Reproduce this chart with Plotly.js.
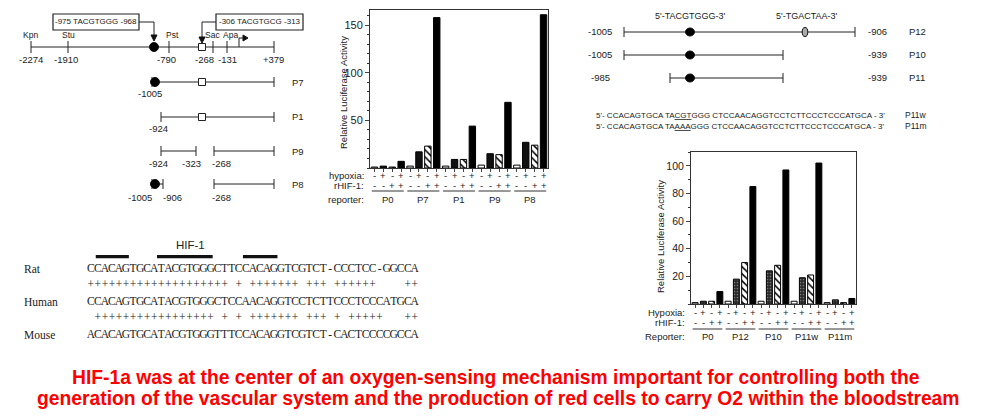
<!DOCTYPE html>
<html><head><meta charset="utf-8">
<script src="https://cdn.plot.ly/plotly-3.0.1.min.js"></script>
<style>html,body{margin:0;padding:0;background:#fff}#chart{width:984px;height:418px}</style>
</head><body><div id="chart"></div>
<script>
// ---------------- data ----------------
const leftReporters = ['P0','P7','P1','P9','P8'];
const leftNone    = [1, 2, 2, 3, 3];
const leftHypoxia = [2, 17, 9, 15, 27];
const leftHif     = [1, 23, 9, 14, 24];
const leftBoth    = [7, 158, 44, 69, 161];

const rightReporters = ['P0','P12','P10','P11w','P11m'];
const rightNone    = [1, 2, 2, 2, 1];
const rightHypoxia = [2, 18, 24, 19, 3];
const rightHif     = [2, 30, 28, 21, 1];
const rightBoth    = [9, 85, 97, 102, 4];

const hypoxiaSigns = ['-','+','-','+'];
const rhifSigns    = ['-','-','+','+'];
const leftYTicks  = [50, 100, 150];
const rightYTicks = [20, 40, 60, 80, 100];

const seqNames = ['Rat','Human','Mouse'];
const seqRat   = 'CCACAGTGCATACGTGGGCTTCCACAGGTCGTCT-CCCTCC-GGCCA';
const seqHuman = 'CCACAGTGCATACGTGGGCTCCAACAGGTCCTCTTCCCTCCCATGCA';
const seqMouse = 'ACACAGTGCATACGTGGGTTTCCACAGGTCGTCT-CACTCCCCGCCA';
const idRatHuman   = '++++++++++++++++++++ + +++++++ +++ ++++++    ++';
const idHumanMouse = ' +++++++++++++++++ + + +++++++ +++ + +++++   ++';

const mapSiteNames  = ['Kpn','Stu','Pst','Sac','Apa'];
const mapCoordLabels = ['-2274','-1910','-790','-268','-131','+379'];
const boxLabels = ['-975 TACGTGGG -968','-306 TACGTGCG -313'];
const constructNames = ['P7','P1','P9','P8'];
const rightConstructs = ['P12','P10','P11'];
const rightLeftCoords = ['-1005','-1005','-985'];
const rightRightCoords = ['-906','-939','-939'];
const motifLabels = ["5'-TACGTGGG-3'","5'-TGACTAA-3'"];
const seqP11w = "5'- CCACAGTGCA TA<u>CGT</u>GGG CTCCAACAGGTCCTCTTCCCTCCCATGCA - 3'";
const seqP11m = "5'- CCACAGTGCA TA<u>AAA</u>GGG CTCCAACAGGTCCTCTTCCCTCCCATGCA - 3'";
const captionLines = [
  'HIF-1a was at the center of an oxygen-sensing mechanism important for controlling both the',
  'generation of the vascular system and the production of red cells to carry O2 within the bloodstream'
];

// ---------------- helpers ----------------
const W = 984, H = 418;
const X = p => p / W;
const Y = p => 1 - p / H;
const FONT = 'Arial, "Liberation Sans", sans-serif';
const annotations = [];
const shapes = [];
function txt(text, x, y, o) {
  o = o || {};
  annotations.push({text, x: X(x), y: Y(y), xref: 'paper', yref: 'paper', showarrow: false,
    xanchor: o.xa || 'center', yanchor: 'middle', textangle: o.angle || 0,
    font: {family: o.family || FONT, size: o.size || 9, color: o.color || '#222', weight: o.weight || 'normal'}});
}
function line(x0, y0, x1, y1, w, c) {
  shapes.push({type: 'line', xref: 'paper', yref: 'paper', x0: X(x0), y0: Y(y0), x1: X(x1), y1: Y(y1),
    line: {color: c || '#222', width: w || 1}});
}
function circ(cx, cy, rx, ry, fill) {
  shapes.push({type: 'circle', xref: 'paper', yref: 'paper', x0: X(cx - rx), x1: X(cx + rx), y0: Y(cy + ry), y1: Y(cy - ry),
    fillcolor: fill, line: {color: '#111', width: 1}});
}
function rect(x0, y0, x1, y1, fill, lw) {
  shapes.push({type: 'rect', xref: 'paper', yref: 'paper', x0: X(x0), x1: X(x1), y0: Y(y1), y1: Y(y0),
    fillcolor: fill, line: {color: '#222', width: lw || 1}});
}
function path(pts, fill) {
  let d = pts.map((p, i) => (i ? 'L' : 'M') + X(p[0]) + ',' + Y(p[1])).join(' ') + ' Z';
  shapes.push({type: 'path', xref: 'paper', yref: 'paper', path: d, fillcolor: fill, line: {color: fill, width: 1}});
}
function seg(x0, x1, y) { line(x0, y, x1, y); line(x0, y - 5, x0, y + 5); line(x1, y - 5, x1, y + 5); }

// ---------------- top-left restriction map ----------------
const mY = 47;
line(31, mY, 274, mY);
const siteX = [31, 68, 169, 213, 227];
const siteLabX = [31, 68, 172, 212, 230];
siteX.forEach((x, i) => { line(x, mY - 6, x, mY + 6); txt(mapSiteNames[i], siteLabX[i], 35, {size: 8.5}); });
line(274, mY - 6, 274, mY + 6);
const coordX = [31, 66, 166, 204, 227, 273];
mapCoordLabels.forEach((t, i) => txt(t, coordX[i], 59, {size: 9.5}));
circ(154, mY, 4.5, 4.5, '#000');
rect(198.5, mY - 3.5, 205.5, mY + 3.5, '#fff');
line(239, mY, 239, 38); line(239, 38, 243, 38); path([[243, 35], [248, 38], [243, 41]], '#111');
rect(53, 14, 139, 30, '#fff', 1.2); txt(boxLabels[0], 96, 22, {size: 8});
rect(216, 14, 303, 30, '#fff', 1.2); txt(boxLabels[1], 259.5, 22, {size: 8});
line(139, 22, 154, 22); line(154, 22, 154, 36); path([[151, 35], [157, 35], [154, 41]], '#111');
line(216, 22, 202, 22); line(202, 22, 202, 37); path([[199, 37], [205, 37], [202, 43]], '#111');
// constructs
const cY = [82, 117, 151, 184];
seg(152, 274, cY[0]); circ(155, cY[0], 4.5, 4.5, '#000'); rect(198.5, cY[0] - 3.5, 205.5, cY[0] + 3.5, '#fff');
txt('-1005', 150, 93, {size: 9.5});
seg(161, 274, cY[1]); rect(198.5, cY[1] - 3.5, 205.5, cY[1] + 3.5, '#fff');
txt('-924', 158, 128, {size: 9.5});
seg(161, 196, cY[2]); seg(214, 274, cY[2]);
txt('-924', 158, 163, {size: 9.5}); txt('-323', 191, 163, {size: 9.5}); txt('-268', 221, 163, {size: 9.5});
seg(152, 163, cY[3]); circ(155, cY[3], 4.5, 4.5, '#000'); seg(214, 274, cY[3]);
txt('-1005', 140, 197, {size: 9.5}); txt('-906', 172, 197, {size: 9.5}); txt('-268', 221, 197, {size: 9.5});
constructNames.forEach((n, i) => txt(n, 290, cY[i], {xa: 'left', size: 9.5}));

// ---------------- top-right constructs ----------------
txt(motifLabels[0], 690, 16, {size: 9}); txt(motifLabels[1], 807, 16, {size: 9});
const rY = [32, 55, 78];
seg(624, 855, rY[0]); seg(624, 783, rY[1]); seg(670, 783, rY[2]);
rY.forEach((y, i) => {
  circ(690, y, 4.5, 4, '#000');
  txt(rightLeftCoords[i], 600, y, {size: 9.5});
  txt(rightRightCoords[i], 877, y, {size: 9.5});
  txt(rightConstructs[i], 917, y, {size: 9.5});
});
circ(805, rY[0], 2.8, 4.5, '#aaa');
txt(seqP11w, 594, 115, {xa: 'left', size: 8});
txt(seqP11m, 594, 126, {xa: 'left', size: 8});
txt('P11w', 903, 115, {xa: 'left', size: 8.5});
txt('P11m', 903, 126, {xa: 'left', size: 8.5});

// ---------------- bar charts ----------------
function bars(vals, k, xa, ya, marker) {
  return {type: 'bar', x: vals.map((v, g) => g * 4 + k), y: vals, xaxis: xa, yaxis: ya,
    width: 0.72, marker: marker, hoverinfo: 'skip', showlegend: false};
}
const outline = {color: '#000', width: 1};
const whiteM = {color: '#fff', line: outline};
const hatchM = {color: '#fff', line: outline, pattern: {shape: '\\', fgcolor: '#000', bgcolor: '#fff', size: 5, solidity: 0.3}};
const blackM = {color: '#000', line: outline};
const stippleM = {color: '#2a2a2a', line: outline, pattern: {shape: '.', fgcolor: '#777', bgcolor: '#2a2a2a', size: 3, solidity: 0.25}};

const data = [
  bars(leftNone, 0, 'x', 'y', whiteM),
  bars(leftHypoxia, 1, 'x', 'y', {color: '#111', line: outline}),
  bars(leftHif, 2, 'x', 'y', hatchM),
  bars(leftBoth, 3, 'x', 'y', blackM),
  bars(rightNone, 0, 'x2', 'y2', whiteM),
  bars(rightHypoxia, 1, 'x2', 'y2', stippleM),
  bars(rightHif, 2, 'x2', 'y2', hatchM),
  bars(rightBoth, 3, 'x2', 'y2', blackM)
];

function signRows(xa, reporters, yHyp, yHif, yRep, yLine, lab, labX, size) {
  const n = reporters.length * 4;
  for (let i = 0; i < n; i++) {
    annotations.push({text: hypoxiaSigns[i % 4], x: i, xref: xa, y: Y(yHyp), yref: 'paper', showarrow: false,
      yanchor: 'middle', font: {family: FONT, size: size, color: '#222'}});
    annotations.push({text: rhifSigns[i % 4], x: i, xref: xa, y: Y(yHif), yref: 'paper', showarrow: false,
      yanchor: 'middle', font: {family: FONT, size: size, color: '#222'}});
  }
  reporters.forEach((r, g) => {
    annotations.push({text: r, x: g * 4 + 1.5, xref: xa, y: Y(yRep), yref: 'paper', showarrow: false,
      yanchor: 'middle', font: {family: FONT, size: size, color: '#222'}});
    shapes.push({type: 'line', xref: xa, yref: 'paper', x0: g * 4 - 0.3, x1: g * 4 + 3.3, y0: Y(yLine), y1: Y(yLine),
      line: {color: '#333', width: 1}});
  });
  txt(lab[0], labX, yHyp, {xa: 'right', size: size});
  txt(lab[1], labX, yHif, {xa: 'right', size: size});
  txt(lab[2], labX, yRep, {xa: 'right', size: size});
}
signRows('x', leftReporters, 175.5, 185.5, 199, 191, ['hypoxia:', 'rHIF-1:', 'reporter:'], 366, 9.5);
signRows('x2', rightReporters, 312, 322, 336, 329, ['Hypoxia:', 'rHIF-1:', 'Reporter:'], 687, 9.5);
txt('Relative Luciferase Activity', 343, 93, {angle: -90, size: 9.5});
txt('Relative Luciferase Activity', 660, 237, {angle: -90, size: 9.5});

// ---------------- alignment ----------------
const seqs = [seqRat, idRatHuman, seqHuman, idHumanMouse, seqMouse];
const ax = [], ay = [], at = [];
seqs.forEach((s, r) => { for (let i = 0; i < s.length; i++) { if (s[i] !== ' ') { ax.push(i); ay.push(r); at.push(s[i]); } } });
data.push({type: 'scatter', mode: 'text', x: ax, y: ay, text: at, xaxis: 'x3', yaxis: 'y3', cliponaxis: false,
  textfont: {family: '"Liberation Serif", "Times New Roman", serif', size: 11.5, color: '#222'}, hoverinfo: 'skip', showlegend: false});
data.push({type: 'scatter', mode: 'lines', x: [0.7, 5.4, null, 9.4, 17.3, null, 21.6, 26.5], y: [-0.73, -0.73, null, -0.73, -0.73, null, -0.73, -0.73],
  xaxis: 'x3', yaxis: 'y3', line: {color: '#111', width: 3.2}, hoverinfo: 'skip', showlegend: false, cliponaxis: false});
annotations.push({text: 'HIF-1', x: 14.1, xref: 'x3', y: -1.45, yref: 'y3', showarrow: false, yanchor: 'middle',
  font: {family: FONT, size: 11.5, color: '#222'}});
[0, 2, 4].forEach((r, i) => annotations.push({text: seqNames[i], x: X(22), xref: 'paper', y: r, yref: 'y3', xanchor: 'left',
  showarrow: false, yanchor: 'middle', font: {family: '"Liberation Serif", "Times New Roman", serif', size: 11.5, color: '#222'}}));

// ---------------- caption ----------------
const capFont = 'Arial, "Liberation Sans", sans-serif';
txt(captionLines[0], 496, 377, {size: 19.3, family: capFont, color: '#ff0000', weight: 'bold'});
txt(captionLines[1], 497.5, 398, {size: 19.3, family: capFont, color: '#ff0000', weight: 'bold'});

// ---------------- layout ----------------
const hiddenAx = {visible: false, showgrid: false, zeroline: false, fixedrange: true};
const layout = {
  width: W, height: H, margin: {l: 0, r: 0, t: 0, b: 0}, paper_bgcolor: '#fff', plot_bgcolor: 'rgba(0,0,0,0)',
  barmode: 'overlay', showlegend: false, font: {family: FONT, color: '#222'},
  xaxis: {domain: [X(370), X(548)], range: [-0.5, 19.5], showticklabels: false, ticks: 'outside', ticklen: 3,
    tickvals: Array.from({length: 20}, (_, i) => i), showline: true, mirror: true, linecolor: '#333', linewidth: 1,
    showgrid: false, zeroline: false, fixedrange: true},
  yaxis: {domain: [Y(168), Y(10)], range: [0, 166], tickvals: leftYTicks, ticks: 'outside', ticklen: 4,
    minor: {dtick: 10, ticks: 'outside', ticklen: 2, tickcolor: '#333', showgrid: false},
    showline: true, mirror: true, linecolor: '#333', showgrid: false, zeroline: false,
    tickfont: {size: 11, family: FONT, color: '#222'}, fixedrange: true},
  xaxis2: {domain: [X(691), X(856)], range: [-0.5, 19.5], showticklabels: false, ticks: 'outside', ticklen: 3,
    tickvals: Array.from({length: 20}, (_, i) => i), showline: true, mirror: true, linecolor: '#333',
    showgrid: false, zeroline: false, anchor: 'y2', fixedrange: true},
  yaxis2: {domain: [Y(304), Y(152)], range: [0, 110], tickvals: rightYTicks, ticks: 'outside', ticklen: 4,
    minor: {dtick: 10, ticks: 'outside', ticklen: 2, tickcolor: '#333', showgrid: false},
    showline: true, mirror: true, linecolor: '#333', showgrid: false, zeroline: false, anchor: 'x2',
    tickfont: {size: 10.5, family: FONT, color: '#222'}, fixedrange: true},
  xaxis3: Object.assign({domain: [X(87.3), X(418.3)], range: [-0.5, 46.5], anchor: 'y3'}, hiddenAx),
  yaxis3: Object.assign({domain: [Y(345), Y(239)], range: [4.6, -1.8], anchor: 'x3'}, hiddenAx),
  annotations: annotations, shapes: shapes
};
Plotly.newPlot('chart', data, layout, {staticPlot: true, displayModeBar: false});
</script></body></html>
